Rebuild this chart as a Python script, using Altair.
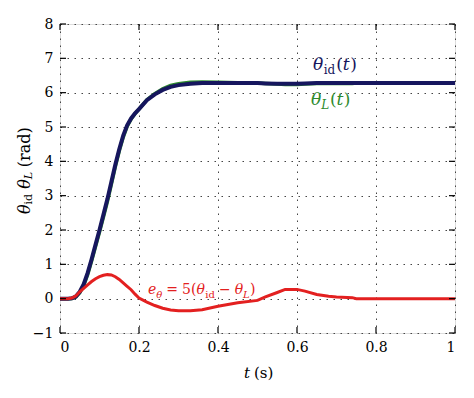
import altair as alt
import pandas as pd

# ---- data ----
t_vals = [0, 0.02, 0.03, 0.04, 0.05, 0.06, 0.07, 0.08, 0.09, 0.10, 0.11, 0.12, 0.13, 0.14,
          0.15, 0.16, 0.17, 0.18, 0.19, 0.20, 0.22, 0.24, 0.26, 0.28, 0.30, 0.33, 0.36, 0.40,
          0.45, 0.50, 0.52, 0.55, 0.57, 0.60, 0.62, 0.65, 0.68, 0.70, 0.74, 0.75, 0.80, 0.90, 1.00]
theta_id = [0, 0, 0.01, 0.06, 0.2, 0.42, 0.75, 1.15, 1.58, 2.0, 2.45, 2.9, 3.4, 3.9,
            4.35, 4.75, 5.05, 5.25, 5.4, 5.52, 5.78, 5.95, 6.08, 6.17, 6.22, 6.26, 6.28, 6.28,
            6.28, 6.28, 6.27, 6.26, 6.26, 6.26, 6.27, 6.28, 6.28, 6.28, 6.28, 6.28, 6.28, 6.28, 6.28]
theta_L = [0, 0, 0.006, 0.05, 0.17, 0.38, 0.7, 1.1, 1.52, 1.94, 2.38, 2.83, 3.33, 3.84,
           4.3, 4.7, 5.02, 5.23, 5.39, 5.52, 5.79, 5.97, 6.11, 6.21, 6.26, 6.3, 6.31, 6.3,
           6.29, 6.28, 6.27, 6.25, 6.24, 6.24, 6.25, 6.27, 6.27, 6.27, 6.27, 6.28, 6.28, 6.28, 6.28]
e_theta = [0, 0, 0.02, 0.08, 0.2, 0.3, 0.4, 0.5, 0.58, 0.64, 0.68, 0.7, 0.69, 0.64,
           0.56, 0.46, 0.36, 0.26, 0.13, 0.02, -0.1, -0.2, -0.28, -0.33, -0.35, -0.35, -0.32, -0.22,
           -0.12, -0.05, 0.05, 0.18, 0.27, 0.27, 0.22, 0.12, 0.07, 0.05, 0.03, 0.0, 0, 0, 0]

x_ticks = [0, 0.2, 0.4, 0.6, 0.8, 1.0]
y_ticks = [-1, 0, 1, 2, 3, 4, 5, 6, 7, 8]

NAVY = "#16165e"
GREEN = "#2e8b2e"
RED = "#e32020"
FONT = "DejaVu Serif"

W, H = 395, 309

df = pd.DataFrame({"t": t_vals, "id": theta_id, "L": theta_L, "e": e_theta})

xs = alt.Scale(domain=[0, 1], nice=False)
ys = alt.Scale(domain=[-1, 8], nice=False)

xaxis = alt.Axis(values=x_ticks, title=None, labelFont=FONT,
                 labelExpr="datum.value == 0 ? '0' : datum.value == 1 ? '1' : format(datum.value, '.1f')")
yaxis = alt.Axis(values=y_ticks, title=None, labelFont=FONT,
                 labelExpr="datum.value < 0 ? '\u2212' + abs(datum.value) : '' + datum.value")

base = alt.Chart(df)
line_L = base.mark_line(color=GREEN, strokeWidth=3.5, clip=True).encode(
    x=alt.X("t:Q", scale=xs, axis=xaxis), y=alt.Y("L:Q", scale=ys, axis=yaxis))
line_id = base.mark_line(color=NAVY, strokeWidth=4, clip=True).encode(
    x=alt.X("t:Q", scale=xs, axis=xaxis), y=alt.Y("id:Q", scale=ys, axis=yaxis))
line_e = base.mark_line(color=RED, strokeWidth=3, clip=True).encode(
    x=alt.X("t:Q", scale=xs, axis=xaxis), y=alt.Y("e:Q", scale=ys, axis=yaxis))

# inward ticks on all four sides
xt = pd.DataFrame({"v": x_ticks})
yt = pd.DataFrame({"v": y_ticks})
TL = 6
tick_layers = []
for y1, y2 in [(0, TL), (H - TL, H)]:
    tick_layers.append(alt.Chart(xt).mark_rule(color="black", strokeWidth=1.2).encode(
        x=alt.X("v:Q", scale=xs, axis=xaxis), y=alt.value(y1), y2=alt.value(y2)))
for x1, x2 in [(0, TL), (W - TL, W)]:
    tick_layers.append(alt.Chart(yt).mark_rule(color="black", strokeWidth=1.2).encode(
        y=alt.Y("v:Q", scale=ys, axis=yaxis), x=alt.value(x1), x2=alt.value(x2)))

# ---- rich-text annotations built from pieces ----
REG = {"(": .39, ")": .39, "r": .48, "a": .6, "d": .64, "s": .51, "i": .32,
       "=": .84, "5": .64, "\u2212": .84}
ITA = {"θ": .6, "t": .4, "L": .64, "e": .59}


def width(text, style):
    tab = ITA if style == "italic" else REG
    return sum(tab.get(c, .6) for c in text)


def rich(parts, x0, y0, color, angle=0, baseline="alphabetic"):
    """parts: (text, size, style, shift, gap_before_px)"""
    layers = []
    off = 0.0
    for text, size, style, shift, gap in parts:
        off += gap
        kw = dict(align="left", baseline=baseline, font=FONT, fontSize=size,
                  fontStyle=style, color=color, dx=off, dy=shift)
        if angle:
            kw["angle"] = angle
        layers.append(alt.Chart(pd.DataFrame({"s": [text]})).mark_text(**kw).encode(
            text="s:N", x=alt.value(x0), y=alt.value(y0)))
        off += width(text, style) * size
    return layers


ann = []
ann += rich([("θ", 17, "italic", 0, 0), ("id", 12, "normal", 4, 0.5), ("(", 17, "normal", 0, 1),
             ("t", 17, "italic", 0, 0), (")", 17, "normal", 0, 0.5)], 253, 46, NAVY)
ann += rich([("θ", 17, "italic", 0, 0), ("L", 12, "italic", 4, 0), ("(", 17, "normal", 0, 1),
             ("t", 17, "italic", 0, 0), (")", 17, "normal", 0, 0.5)], 251, 81, GREEN)
ann += rich([("e", 14, "italic", 0, 0), ("θ", 10, "italic", 4, 0), ("=", 14, "normal", 0, 4),
             ("5(", 14, "normal", 0, 4), ("θ", 14, "italic", 0, 0), ("id", 10, "normal", 4, 0.5),
             ("\u2212", 14, "normal", 0, 4), ("θ", 14, "italic", 0, 4),
             ("L", 10, "italic", 4, 0), (")", 14, "normal", 0, 0.5)],
            88, 270, RED)
ann += rich([("t", 15, "italic", 0, 0), ("(s)", 15, "normal", 0, 4)], 184, 354, "black")
ann += rich([("θ", 16, "italic", 0, 0), ("id", 11, "normal", 4, 0), ("θ", 16, "italic", 0, 5),
             ("L", 11, "italic", 4, 0), ("(rad)", 16, "normal", 0, 5)],
            -35, 190, "black", angle=270, baseline="middle")

chart = alt.layer(line_L, line_id, line_e, *tick_layers, *ann).properties(
    width=W, height=H,
    autosize=alt.AutoSizeParams(type="none"),
    padding={"left": 52, "top": 16, "right": 11, "bottom": 60},
).configure_view(stroke="black", strokeWidth=1.2).configure(background="white").configure_axis(
    ticks=False, domain=False, labelOverlap=False, labelFont=FONT, labelFontSize=14,
    labelColor="black", labelPadding=7, grid=True, gridDash=[1.5, 5.5], gridColor="#444",
    gridWidth=1)

chart.save("out.html", embed_options={"renderer": "svg", "actions": False})
